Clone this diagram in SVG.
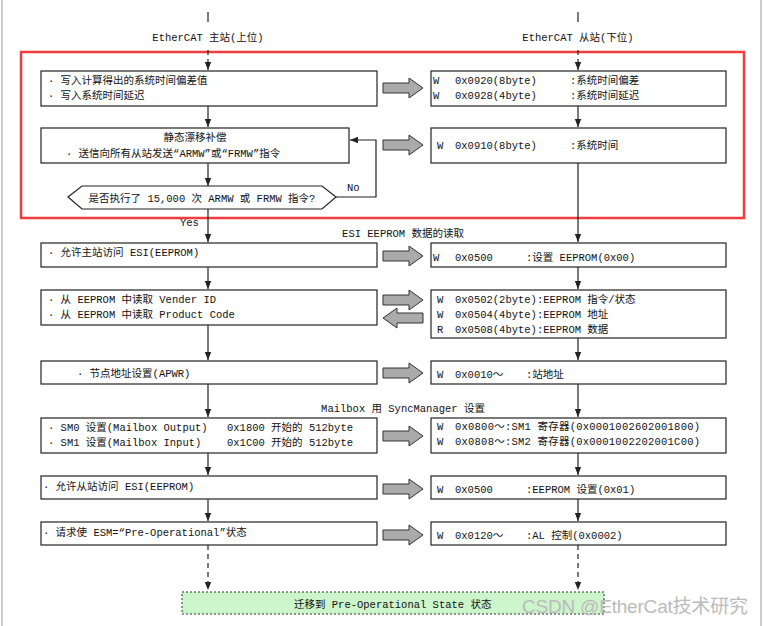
<svg xmlns="http://www.w3.org/2000/svg" width="763" height="626" viewBox="0 0 763 626">
<style>
text{font-family:"Liberation Mono","Noto Sans CJK SC",monospace;font-size:10.5px;fill:#111}
.b{fill:#fff;stroke:#222;stroke-width:1.2}
.l{stroke:#222;stroke-width:1.2;fill:none}
.d{stroke:#222;stroke-width:1.2;fill:none;stroke-dasharray:5,4}
.g{fill:#aaa;stroke:#333;stroke-width:1}
</style>
<defs>
<marker id="a" viewBox="0 0 10 10" refX="10" refY="5" markerWidth="7" markerHeight="7" orient="auto"><path d="M0,1 L10,5 L0,9 z" fill="#222"/></marker>
<path id="ga" d="M0,-5 H26 V-10 L40,0 L26,10 V5 H0 z"/>
</defs>
<rect width="763" height="626" fill="#fff"/>
<line x1="2" y1="0" x2="2" y2="626" stroke="#999"/>
<line x1="761" y1="0" x2="761" y2="626" stroke="#999"/>
<rect x="21" y="52" width="723" height="166" fill="none" stroke="#f03c3c" stroke-width="2.5"/>
<text x="208" y="41" text-anchor="middle">EtherCAT 主站(上位)</text>
<text x="578" y="41" text-anchor="middle">EtherCAT 从站(下位)</text>
<g id="connectors">
<line class="l" x1="208" y1="12" x2="208" y2="22"/><line class="l" x1="578" y1="12" x2="578" y2="22"/>
<line class="d" x1="208" y1="50" x2="208" y2="70" marker-end="url(#a)"/>
<line class="d" x1="578" y1="50" x2="578" y2="70" marker-end="url(#a)"/>
<line class="l" x1="208" y1="106" x2="208" y2="127" marker-end="url(#a)"/>
<line class="l" x1="578" y1="106" x2="578" y2="127" marker-end="url(#a)"/>
<line class="l" x1="208" y1="163" x2="208" y2="186" marker-end="url(#a)"/>
<polyline class="l" points="336,197 376,197 376,140 350,140" marker-end="url(#a)"/>
<line class="l" x1="208" y1="209" x2="208" y2="242" marker-end="url(#a)"/>
<line class="l" x1="578" y1="163" x2="578" y2="242" marker-end="url(#a)"/>
<line class="l" x1="208" y1="267" x2="208" y2="289" marker-end="url(#a)"/>
<line class="l" x1="578" y1="267" x2="578" y2="289" marker-end="url(#a)"/>
<line class="l" x1="208" y1="325" x2="208" y2="360" marker-end="url(#a)"/>
<line class="l" x1="578" y1="338" x2="578" y2="360" marker-end="url(#a)"/>
<line class="l" x1="208" y1="384" x2="208" y2="417" marker-end="url(#a)"/>
<line class="l" x1="578" y1="384" x2="578" y2="417" marker-end="url(#a)"/>
<line class="l" x1="208" y1="453" x2="208" y2="475" marker-end="url(#a)"/>
<line class="l" x1="578" y1="453" x2="578" y2="475" marker-end="url(#a)"/>
<line class="l" x1="208" y1="499" x2="208" y2="521" marker-end="url(#a)"/>
<line class="l" x1="578" y1="499" x2="578" y2="521" marker-end="url(#a)"/>
<line class="d" x1="208" y1="545" x2="208" y2="590" marker-end="url(#a)"/>
<line class="d" x1="578" y1="545" x2="578" y2="590" marker-end="url(#a)"/>
<use href="#ga" class="g" x="383" y="88"/>
<use href="#ga" class="g" x="383" y="145"/>
<use href="#ga" class="g" x="383" y="256"/>
<use href="#ga" class="g" x="383" y="300"/>
<use href="#ga" class="g" transform="translate(423,318) scale(-1,1)"/>
<use href="#ga" class="g" x="383" y="373"/>
<use href="#ga" class="g" x="383" y="436"/>
<use href="#ga" class="g" x="383" y="489"/>
<use href="#ga" class="g" x="383" y="535"/>
</g>
<text x="347" y="191">No</text>
<text x="180" y="226">Yes</text>
<text x="403" y="237" text-anchor="middle">ESI EEPROM 数据的读取</text>
<text x="403" y="412" text-anchor="middle">Mailbox 用 SyncManager 设置</text>
<g id="m1"><rect class="b" x="41" y="71" width="336" height="35"/><text x="48" y="84">· 写入计算得出的系统时间偏差值</text><text x="48" y="99">· 写入系统时间延迟</text></g>
<g id="s1"><rect class="b" x="431" y="71" width="295" height="35"/><text x="433" y="84">W</text><text x="455" y="84">0x0920(8byte)</text><text x="570" y="84">:系统时间偏差</text><text x="433" y="99">W</text><text x="455" y="99">0x0928(4byte)</text><text x="570" y="99">:系统时间延迟</text></g>
<g id="m2"><rect class="b" x="41" y="128" width="308" height="35"/><text x="195" y="141" text-anchor="middle">静态漂移补偿</text><text x="66" y="157">· 送信向所有从站发送“ARMW”或“FRMW”指令</text></g>
<g id="s2"><rect class="b" x="431" y="128" width="295" height="35"/><text x="437" y="149">W</text><text x="455" y="149">0x0910(8byte)</text><text x="570" y="149">:系统时间</text></g>
<g id="dec"><polygon class="b" points="68,197 82,186 322,186 336,197 322,209 82,209"/><text x="202" y="202" text-anchor="middle">是否执行了 15,000 次 ARMW 或 FRMW 指令?</text></g>
<g id="m3"><rect class="b" x="41" y="243" width="336" height="24"/><text x="48" y="256">· 允许主站访问 ESI(EEPROM)</text></g>
<g id="s3"><rect class="b" x="431" y="243" width="295" height="24"/><text x="433" y="261">W</text><text x="455" y="261">0x0500</text><text x="526" y="261">:设置 EEPROM(0x00)</text></g>
<g id="m4"><rect class="b" x="41" y="290" width="336" height="35"/><text x="48" y="303">· 从 EEPROM 中读取 Vender ID</text><text x="48" y="318">· 从 EEPROM 中读取 Product Code</text></g>
<g id="s4"><rect class="b" x="431" y="290" width="295" height="48"/><text x="437" y="303">W</text><text x="455" y="303">0x0502(2byte):EEPROM 指令/状态</text><text x="437" y="318">W</text><text x="455" y="318">0x0504(4byte):EEPROM 地址</text><text x="437" y="333">R</text><text x="455" y="333">0x0508(4byte):EEPROM 数据</text></g>
<g id="m5"><rect class="b" x="41" y="361" width="336" height="23"/><text x="77" y="377">· 节点地址设置(APWR)</text></g>
<g id="s5"><rect class="b" x="431" y="361" width="295" height="23"/><text x="437" y="378">W</text><text x="455" y="378">0x0010～</text><text x="526" y="378">:站地址</text></g>
<g id="m6"><rect class="b" x="41" y="418" width="336" height="35"/><text x="48" y="431">· SM0 设置(Mailbox Output)</text><text x="227" y="431">0x1800 开始的 512byte</text><text x="48" y="446">· SM1 设置(Mailbox Input)</text><text x="227" y="446">0x1C00 开始的 512byte</text></g>
<g id="s6"><rect class="b" x="431" y="418" width="295" height="35"/><text x="437" y="430">W</text><text x="455" y="430" textLength="245">0x0800～:SM1 寄存器(0x0001002602001800)</text><text x="437" y="445">W</text><text x="455" y="445" textLength="245">0x0808～:SM2 寄存器(0x0001002202001C00)</text></g>
<g id="m7"><rect class="b" x="41" y="476" width="336" height="23"/><text x="43" y="490">· 允许从站访问 ESI(EEPROM)</text></g>
<g id="s7"><rect class="b" x="431" y="476" width="295" height="23"/><text x="437" y="493">W</text><text x="455" y="493">0x0500</text><text x="526" y="493">:EEPROM 设置(0x01)</text></g>
<g id="m8"><rect class="b" x="41" y="522" width="336" height="23"/><text x="43" y="536">· 请求使 ESM=“Pre-Operational”状态</text></g>
<g id="s8"><rect class="b" x="431" y="522" width="295" height="23"/><text x="437" y="539">W</text><text x="455" y="539">0x0120～</text><text x="526" y="539">:AL 控制(0x0002)</text></g>
<g id="end"><rect x="182" y="592" width="422" height="22" fill="#ccf5cc" stroke="#333" stroke-dasharray="2,2"/><text x="294" y="608">迁移到 Pre-Operational State 状态</text></g>
<text x="522" y="613" textLength="226" style="font-family:'Liberation Sans','Noto Sans CJK SC',sans-serif;font-size:19px;fill:#bbb">CSDN @EtherCat技术研究</text>
</svg>
